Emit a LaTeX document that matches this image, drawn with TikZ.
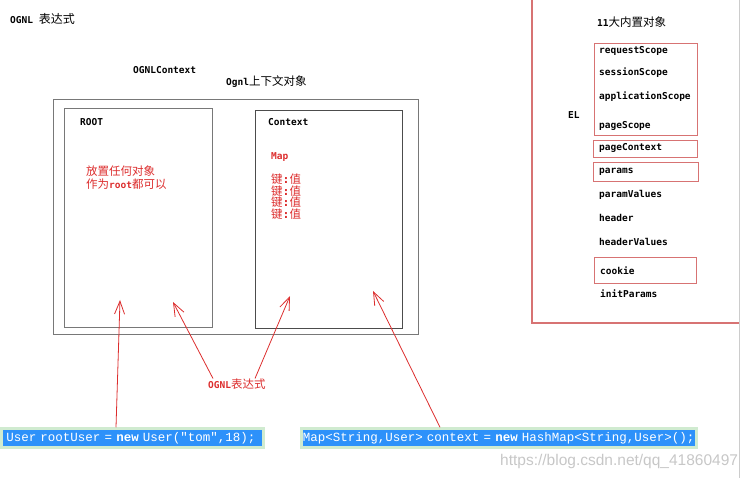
\documentclass[tikz,border=0pt]{standalone}
\usepackage{fontspec}
\setmainfont{Liberation Sans}
\setmonofont{Liberation Mono}
\newfontfamily\cjk{Noto Sans CJK SC}
\newfontfamily\pixfont{DejaVu Sans Mono}
\usetikzlibrary{positioning}
\usetikzlibrary{arrows.meta}

\definecolor{boxgray}{RGB}{120,120,120}
\definecolor{notered}{RGB}{220,45,45}
\definecolor{panelpink}{RGB}{215,115,115}
\definecolor{selblue}{RGB}{45,145,250}
\definecolor{bandgreen}{RGB}{208,235,208}

\begin{document}
\begin{tikzpicture}[x=1pt,y=-1pt,>={Straight Barb[length=13pt,width=10pt]},
	gray box/.style={draw=boxgray,line width=1.2pt,inner sep=0pt},
	pink box/.style={draw=panelpink,line width=1.2pt,inner sep=0pt},
	tag/.style={inner sep=0pt,anchor=west,font=\pixfont\bfseries\fontsize{9.5}{11}\selectfont},
	cn text/.style={inner sep=0pt,anchor=west,font=\cjk\fontsize{11.5}{13}\selectfont},
	red text/.style={cn text,text=notered},
	code bar/.style={fill=selblue,draw=bandgreen,line width=2.5pt,text=white,inner ysep=2pt,
		minimum height=19pt,align=left,font=\ttfamily\fontsize{12.5}{13}\selectfont},
	red arrow/.style={->,draw=notered,line width=0.8pt}]

	\useasboundingbox (0,0) rectangle (752,478);

	% titles
	\node[tag] (title) at (10,19) {OGNL \cjk\mdseries\fontsize{12}{14}\selectfont 表达式};
	\node[tag] (ctxname) at (133,70) {OGNLContext};
	\node[tag] (ctxcn) at (226,82) {Ognl\cjk\mdseries\fontsize{11.5}{13}\selectfont 上下文对象};

	% context boxes
	\node[gray box,minimum width=365pt,minimum height=235pt,anchor=north west] (ognl) at (53,99) {};
	\node[gray box,minimum width=148pt,minimum height=219pt,anchor=north west] (root) at (64,108) {};
	\node[gray box,draw=black!70,minimum width=147pt,minimum height=218pt,anchor=north west] (context) at (255,110) {};

	\node[tag] (roottag) at (80,122) {ROOT};
	\node[tag] (contexttag) at (268,122) {Context};
	\node[red text] (any) at (86,171) {放置任何对象};
	\node[red text] (asroot) at (86,184) {作为\pixfont\bfseries\fontsize{9.5}{11}\selectfont root\cjk\mdseries\fontsize{11.5}{13}\selectfont 都可以};
	\node[tag,text=notered] (map) at (271,157) {Map};
	\tikzset{kv/.style={red text,text height=8pt,text depth=2pt}}
	\node[kv] (kv1) at (271,181) {键\pixfont\bfseries :\cjk\mdseries 值};
	\node[kv] (kv2) at (271,192.5) {键\pixfont\bfseries :\cjk\mdseries 值};
	\node[kv] (kv3) at (271,204) {键\pixfont\bfseries :\cjk\mdseries 值};
	\node[kv] (kv4) at (271,215.5) {键\pixfont\bfseries :\cjk\mdseries 值};

	% code lines
	\node[code bar,text width=252pt,inner xsep=5pt,anchor=west] (rootcode) at (0,438) {User rootUser = \textbf{new} User("tom",18);};
	\node[code bar,text width=392pt,inner xsep=1.5pt,anchor=west] (mapcode) at (300,438) {Map<String,User> context = \textbf{new} HashMap<String,User>();};
	\node[red text,font=\pixfont\bfseries\fontsize{9.5}{11}\selectfont] (expr) at (208,384) {OGNL\cjk\mdseries\fontsize{11.5}{13}\selectfont 表达式};

	% arrows
	\coordinate (tip1) at (120,300);
	\coordinate (tip2) at (173,302);
	\coordinate (tip3) at (290,296);
	\coordinate (tip4) at (373,291);
	\draw[red arrow] (rootcode.north -| 116,0) -- (tip1);
	\draw[red arrow] (expr.north -| 213,0) -- (tip2);
	\draw[red arrow] (expr.north -| 255,0) -- (tip3);
	\draw[red arrow] (mapcode.north -| 440,0) -- (tip4);

	% EL panel
	\draw[draw=black!20,line width=1pt] (739,0) -- (739,478);
	\draw[draw=panelpink,line width=1.2pt] (739,323) -- (532,323) -- (532,-2);
	\node[tag] (eltitle) at (597,22) {11\cjk\mdseries\fontsize{11.5}{13}\selectfont 大内置对象};
	\node[tag] (el) at (568,115) {EL};

	\node[pink box,minimum width=103pt,minimum height=92pt,anchor=north west] (scopes) at (594,43) {};
	\node[pink box,minimum width=104pt,minimum height=17pt,anchor=north west] (pcbox) at (593,140) {};
	\node[pink box,minimum width=105pt,minimum height=19pt,anchor=north west] (parbox) at (593,162) {};
	\node[pink box,minimum width=102pt,minimum height=26pt,anchor=north west] (cookbox) at (594,257) {};

	\node[tag] (req) at (599,51) {requestScope};
	\node[tag] (sess) at (599,73) {sessionScope};
	\node[tag] (app) at (599,97) {applicationScope};
	\node[tag] (page) at (599,126) {pageScope};
	\node[tag] (pctx) at (599,148) {pageContext};
	\node[tag] (params) at (599,172) {params};
	\node[tag] (pvals) at (599,195) {paramValues};
	\node[tag] (header) at (599,218) {header};
	\node[tag] (hvals) at (599,242) {headerValues};
	\node[tag] (cookie) at (600,271) {cookie};
	\node[tag] (init) at (600,294) {initParams};

	% watermark
	\node[inner sep=0pt,anchor=west,text=black!22,font=\fontsize{15.5}{17}\selectfont] (mark) at (500,461) {https://blog.csdn.net/qq\_41860497};
\end{tikzpicture}
\end{document}
